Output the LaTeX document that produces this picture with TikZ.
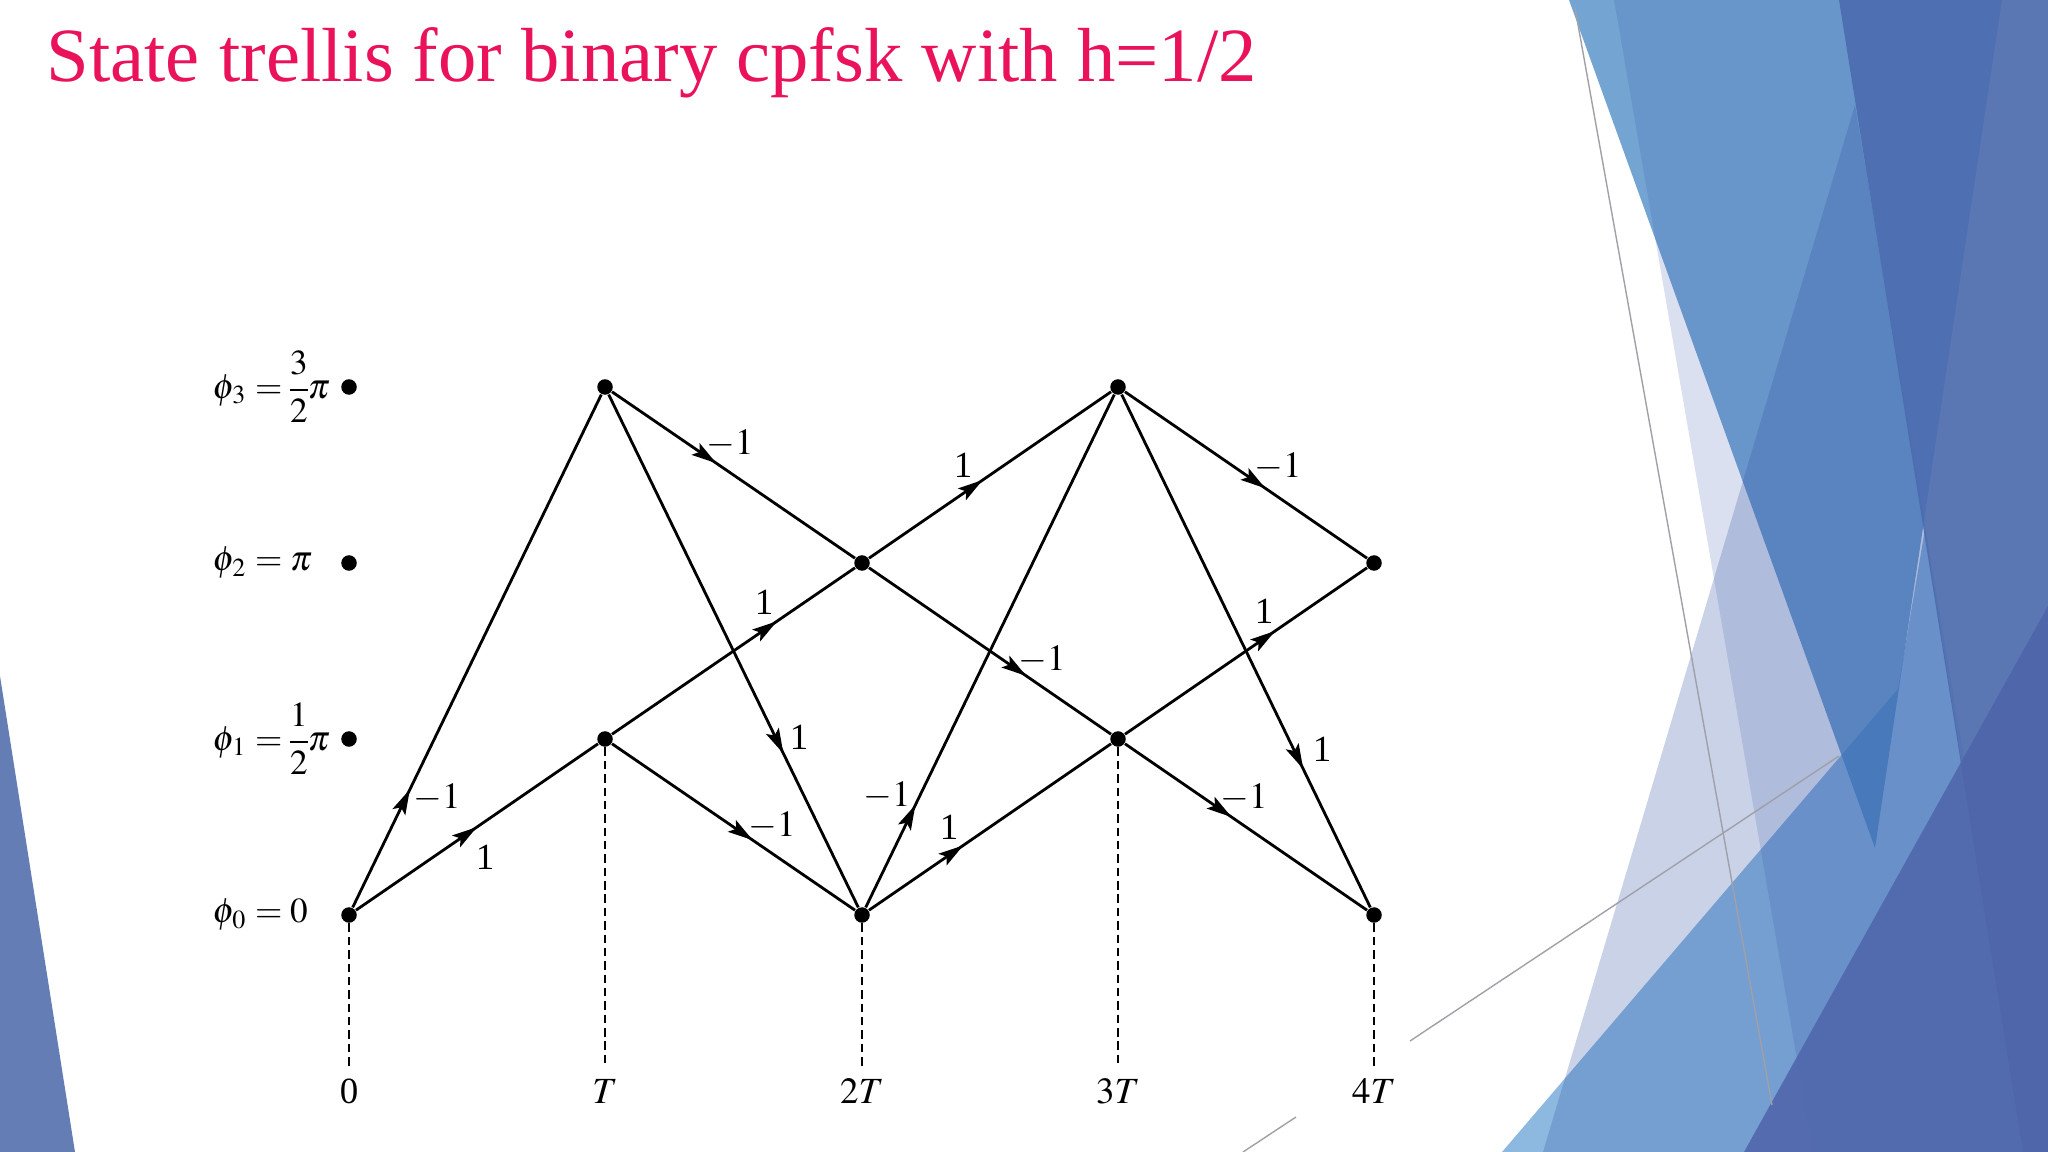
\documentclass[tikz,border=0pt]{standalone}
\usepackage{amsmath}
\usepackage{mathptmx}
\usepackage{fontspec}
\setmainfont{Liberation Serif}
\usepackage{tikz}
\usetikzlibrary{arrows.meta,decorations.markings}

\definecolor{titlepink}{RGB}{233,18,91}
\definecolor{facetA}{RGB}{70,135,195}
\definecolor{facetT}{RGB}{50,83,167}
\definecolor{facetD}{RGB}{75,107,174}
\definecolor{facetE}{RGB}{78,100,170}
\definecolor{facetF}{RGB}{105,162,214}
\definecolor{facetL}{RGB}{101,125,181}
\definecolor{hairline}{RGB}{160,160,168}
\newcommand{\phasefont}{\fontsize{10}{12}\selectfont\nulldelimiterspace=0pt\relax}

\begin{document}
\begin{tikzpicture}[
    x=0.01cm, y=-0.01cm,
    state/.style={circle, fill=black, inner sep=0pt, minimum size=0.155cm},
    branch/.style={line width=0.8pt, postaction={decorate},
        decoration={markings, mark=at position #1 with {\arrow{Stealth[length=0.25cm, width=0.14cm, inset=0.05cm]}}}},
    bitlab/.style={inner sep=0pt, font=\fontsize{10.5}{12}\selectfont},
    guide/.style={dash pattern=on 2.4pt off 1.4pt, line width=0.45pt},
    tlabel/.style={anchor=north, inner sep=3pt, font=\fontsize{10.5}{12}\selectfont},
    phase/.style={anchor=west, inner sep=0pt, font=\phasefont}
]
\useasboundingbox (0,0) rectangle (2048,1152);

% Slide background
\fill[facetL] (0,676) -- (75,1152) -- (0,1152) -- cycle;
\fill[facetF, opacity=0.76] (1502,1152) -- (1898,689) -- (1925,529) -- (2023,1152) -- cycle;
\fill[facetA, opacity=0.75] (1569,0) -- (2002,0) -- (1875,848) -- cycle;
\fill[facetT, opacity=0.18] (1614,0) -- (2048,0) -- (2048,1152) -- (1813,1152) -- cycle;
\fill[facetT, opacity=0.26] (1855,105) -- (2030,1152) -- (1543,1152) -- cycle;
\fill[facetD, opacity=0.89] (1839,0) -- (2048,0) -- (2048,1152) -- (2023,1152) -- cycle;
\fill[facetE, opacity=0.85] (2048,606) -- (2048,1152) -- (1744,1152) -- cycle;
\draw[hairline, line width=0.4pt] (1575,8) -- (1772,1105);
\draw[hairline, line width=0.4pt] (1839,756) -- (1410,1041);
\draw[hairline, line width=0.4pt] (1296,1117) -- (1243,1152);

% Title
\node[anchor=base west, inner sep=0pt, text=titlepink, font=\fontsize{21.8}{26}\selectfont] (title) at (46,82) {State trellis for binary cpfsk with h=1/2};

% States
\node[state] (n00) at (349,915) {};
\node[state] (n01) at (349,739) {};
\node[state] (n02) at (349,563) {};
\node[state] (n03) at (349,387) {};
\node[state] (n11) at (605,739) {};
\node[state] (n13) at (605,387) {};
\node[state] (n20) at (862,915) {};
\node[state] (n22) at (862,563) {};
\node[state] (n31) at (1118,739) {};
\node[state] (n33) at (1118,387) {};
\node[state] (n40) at (1374,915) {};
\node[state] (n42) at (1374,563) {};

% Phase labels
\node[phase] (p0) at (212,915) {$\phi_{\mkern1mu 0} = 0$};
\node[phase] (p1) at (212,739) {$\phi_{\mkern1mu 1} = \dfrac{1}{2}\pi$};
\node[phase] (p2) at (212,563) {$\phi_{\mkern1mu 2} = \pi$};
\node[phase] (p3) at (212,387) {$\phi_{\mkern1mu 3} = \dfrac{3}{2}\pi$};

% Time axis
\node[tlabel] (t0) at (349,1068) {0};
\node[tlabel] (t1) at (605,1068) {$T$};
\node[tlabel] (t2) at (862,1068) {$2T$};
\node[tlabel] (t3) at (1118,1068) {$3T$};
\node[tlabel] (t4) at (1374,1068) {$4T$};
\draw[guide] (n00) -- (t0);
\draw[guide] (n11) -- (t1);
\draw[guide] (n20) -- (t2);
\draw[guide] (n31) -- (t3);
\draw[guide] (n40) -- (t4);

% Transitions 0 -> T
\draw[branch=0.23] (n00) -- (n13);
\draw[branch=0.5] (n00) -- (n11);
\node[bitlab] (b1) at (437,798) {$-1$};
\node[bitlab] (b2) at (485,857) {1};

% Transitions T -> 2T
\draw[branch=0.43] (n13) -- (n22);
\draw[branch=0.7] (n13) -- (n20);
\draw[branch=0.68] (n11) -- (n22);
\draw[branch=0.58] (n11) -- (n20);
\node[bitlab] (b3) at (730,444) {$-1$};
\node[bitlab] (b4) at (799,737) {1};
\node[bitlab] (b5) at (764,602) {1};
\node[bitlab] (b6) at (772,826) {$-1$};

% Transitions 2T -> 3T
\draw[branch=0.47] (n22) -- (n33);
\draw[branch=0.65] (n22) -- (n31);
\draw[branch=0.2] (n20) -- (n33);
\draw[branch=0.39] (n20) -- (n31);
\node[bitlab] (b7) at (963,465) {1};
\node[bitlab] (b8) at (1042,660) {$-1$};
\node[bitlab] (b9) at (887,796) {$-1$};
\node[bitlab] (b10) at (949,827) {1};

% Transitions 3T -> 4T
\draw[branch=0.58] (n33) -- (n42);
\draw[branch=0.73] (n33) -- (n40);
\draw[branch=0.62] (n31) -- (n42);
\draw[branch=0.44] (n31) -- (n40);
\node[bitlab] (b11) at (1278,467) {$-1$};
\node[bitlab] (b12) at (1264,611) {1};
\node[bitlab] (b13) at (1322,749) {1};
\node[bitlab] (b14) at (1244,798) {$-1$};

\end{tikzpicture}
\end{document}
